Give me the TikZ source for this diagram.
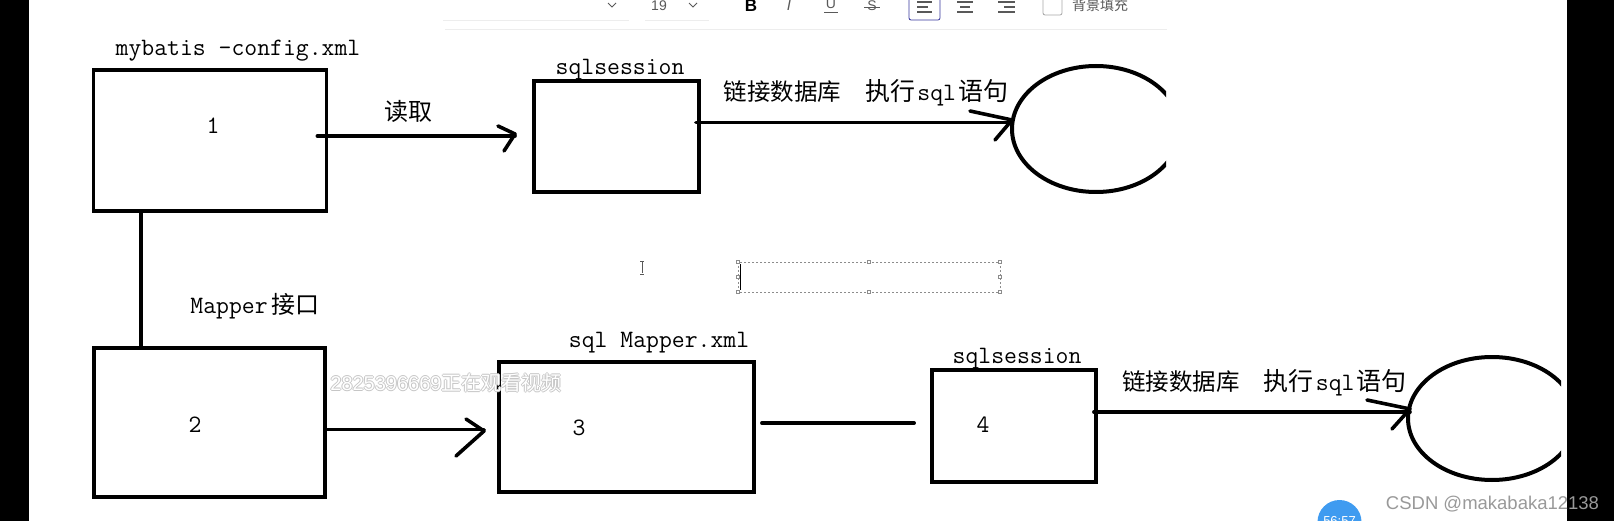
\documentclass[tikz,border=0pt]{standalone}
\usepackage{fontspec}
\usepackage{xcolor}
\usetikzlibrary{shapes.geometric}
\newfontfamily\cjk{Noto Sans CJK SC}
\newfontfamily\uifont{Liberation Sans}
\definecolor{toolgrey}{gray}{0.35}
\definecolor{rulegrey}{gray}{0.93}
\definecolor{handlegrey}{gray}{0.55}
\definecolor{badgeblue}{HTML}{3F9BF0}

\begin{document}
\begin{tikzpicture}[x=1pt, y=-1pt, 
    pen/.style = {line width=3.6pt, line cap=round, line join=round},
    box/.style = {draw, line width=3.7pt, inner sep=0pt},
    oval/.style = {draw, ellipse, line width=4pt, inner sep=0pt, minimum width=168pt, minimum height=126pt},
    word/.style = {inner sep=0pt, anchor=base, font=\fontsize{25}{25}\selectfont\ttfamily},
    tool/.style = {inner sep=0pt, text=toolgrey, font=\fontsize{14}{14}\selectfont\uifont},
    toolpen/.style = {draw=toolgrey, line width=1.2pt},
    handle/.style = {draw=handlegrey, fill=white, line width=0.7pt, minimum size=3.5pt, inner sep=0pt}]
    \useasboundingbox (0,0) rectangle (1614,521);
    \clip (0,0) rectangle (1614,521);
    % black side bars
    \fill (0,0) rectangle (29,521);
    \fill (1567,0) rectangle (1614,521);

    % toolbar at the top
    \draw[rulegrey, line width=0.7pt] (443,20) -- (629,20) (645,20) -- (709,20) (445,29) -- (1167,29);
    \draw[toolpen, line width=0.9pt] (608,3) -- (612,7) -- (616,3);
    \draw[toolpen, line width=0.9pt] (689,3) -- (693,7) -- (697,3);
    \node[tool] (fontsize) at (659,6) {19};
    \node[tool, text=black, font=\fontsize{17}{17}\selectfont\uifont\bfseries] (bold) at (751,6) {B};
    \node[tool, font=\fontsize{15}{15}\selectfont\uifont\itshape] (italic) at (789,5) {I};
    \node[tool] (under) at (831,4) {U};
    \draw[toolpen, line width=0.9pt] (824,12) -- (838,12);
    \node[tool] (strike) at (872,6) {S};
    \draw[toolpen, line width=0.9pt] (864,7) -- (880,7);
    \draw[draw=blue!40!toolgrey, rounded corners=2pt, line width=0.8pt] (909,-3) rectangle (940,20);
    \draw[toolpen] (917,2) -- (932,2) (917,7) -- (928,7) (917,12) -- (932,12);
    \draw[toolpen] (957,2) -- (973,2) (960,7) -- (970,7) (957,12) -- (973,12);
    \draw[toolpen] (998,2) -- (1015,2) (1004,7) -- (1015,7) (998,12) -- (1015,12);
    \draw[draw=gray!70, rounded corners=2pt, line width=0.8pt] (1043,-3) rectangle (1062,15);
    \node[tool, anchor=west, font=\fontsize{14}{14}\selectfont\cjk] (fill) at (1072,5) {背景填充};

    % first row
    \node[box, minimum width=233pt, minimum height=141pt] (cfg) at (210,140.5) {};
    \node[box, minimum width=165pt, minimum height=111pt] (sess1) at (616.5,136.5) {};
    \begin{scope}
        \clip (900,40) rectangle (1166,210);
        \node[oval] (db1) at (1096,129) {};
    \end{scope}
    \node[word] (cfgname) at (238,56) {mybatis -config.xml};
    \node[word] (sess1name) at (620,75) {sqlsession};
    \node[word] (num1) at (213,134) {1};
    \node[word, font=\fontsize{24}{24}\selectfont\cjk] (read) at (408,121) {读取};
    \node[word] (exec1) at (866,101) {{\cjk\fontsize{23.5}{23.5}\selectfont 链接数据库}\hspace{24pt}{\cjk 执行}\hspace{2pt}sql\hspace{2pt}{\cjk 语句}};
    \coordinate (tip1) at (515,134);
    \coordinate (tip2) at (1012,120);
    \draw[pen] ([xshift=-11pt,yshift=4.5pt]cfg.east) coordinate (out1) -- (out1 -| tip1);
    \draw[pen] (tip1) ++(-17,-8) -- (tip1) -- ++(-11,17);
    \draw[pen] ([xshift=-5pt,yshift=14pt]sess1.east) coordinate (out2) -- (out2 -| tip2);
    \draw[pen] (tip2) ++(-42,-9) -- (tip2) -- ++(-17,20);

    % second row
    \node[box, minimum width=231pt, minimum height=149pt] (iface) at (209.5,422.5) {};
    \node[box, minimum width=255pt, minimum height=130pt] (xml) at (626.5,427) {};
    \node[box, minimum width=164pt, minimum height=112pt] (sess2) at (1014,426) {};
    \begin{scope}
        \clip (1300,340) rectangle (1561,500);
        \node[oval, minimum height=123pt] (db2) at (1492,418.5) {};
    \end{scope}
    \node[word] (iname) at (255,313) {Mapper\hspace{4pt}{\cjk\fontsize{24}{24}\selectfont 接口}};
    \node[word] (xmlname) at (659,347) {sql Mapper.xml};
    \node[word] (sess2name) at (1017,363) {sqlsession};
    \node[word] (num2) at (195,432) {2};
    \node[word] (num3) at (579,435) {3};
    \node[word] (num4) at (983,432) {4};
    \node[word] (exec2) at (1264.5,390) {{\cjk\fontsize{23.5}{23.5}\selectfont 链接数据库}\hspace{24pt}{\cjk 执行}\hspace{2pt}sql\hspace{2pt}{\cjk 语句}};
    \coordinate (tip3) at (484,431);
    \coordinate (tip4) at (1410,409);
    \draw[pen, line cap=butt] ([xshift=-69pt]cfg.south) -- ([xshift=-68.5pt]iface.north);
    \draw[pen] ([yshift=-7pt]iface.east) coordinate (out3) -- (out3 -| tip3);
    \draw[pen] (tip3) ++(-18,-12) -- (tip3) -- ++(-28,25);
    \draw[pen] ([xshift=6pt,yshift=4pt]xml.east) -- ([xshift=-16pt,yshift=3pt]sess2.west);
    \draw[pen] ([xshift=-4pt,yshift=14pt]sess2.east) coordinate (out4) -- (out4 -| tip4);
    \draw[pen] (tip4) ++(-43,-9) -- (tip4) -- ++(-18,20);

    % text box being edited and the cursor
    \draw[handlegrey, line width=0.7pt, dash pattern=on 2pt off 2pt] (738,262) rectangle (1000,292);
    \node[handle] (h1) at (738,262) {};
    \node[handle] (h2) at (869,262) {};
    \node[handle] (h3) at (1000,262) {};
    \node[handle] (h4) at (738,277) {};
    \node[handle] (h5) at (1000,277) {};
    \node[handle] (h6) at (738,292) {};
    \node[handle] (h7) at (869,292) {};
    \node[handle] (h8) at (1000,292) {};
    \draw[black, line width=0.9pt] (740,264) -- (740,290);
    \draw[toolgrey, line width=0.8pt] (642,262) -- (642,273) (640,261) -- (644,261) (640,274) -- (644,274);

    % overlays from the video and the site
    \foreach \dx/\dy in {-1/0, 1/0, 0/-1, 0/1}
        \node[inner sep=0pt, text=gray!45, font=\fontsize{20}{20}\selectfont\uifont] at (446+\dx,383+\dy) {2825396669{\cjk 正在观看视频}};
    \node[inner sep=0pt, text=white, font=\fontsize{20}{20}\selectfont\uifont] (viewer) at (446,383) {2825396669{\cjk 正在观看视频}};
    \fill[badgeblue] (1339.5,522) circle (22pt);
    \node[inner sep=0pt, text=white, font=\fontsize{13}{13}\selectfont\uifont] (clock) at (1339.5,521) {56:57};
    \node[inner sep=0pt, text=gray!80, font=\fontsize{18.5}{18.5}\selectfont\uifont] (csdn) at (1492.5,504) {CSDN @makabaka12138};
\end{tikzpicture}
\end{document}
